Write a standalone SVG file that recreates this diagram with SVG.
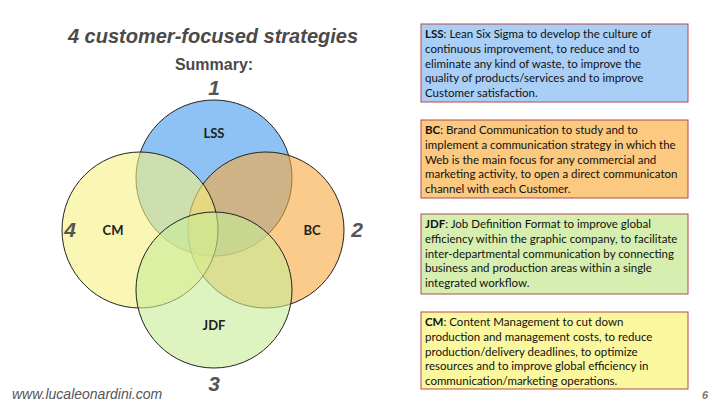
<svg xmlns="http://www.w3.org/2000/svg" width="728" height="410" viewBox="0 0 728 410">
<style>
.c{stroke:#222;stroke-width:1}
.lab{font-family:Lato,"Open Sans",sans-serif;font-weight:bold;font-size:13px;fill:#222;text-anchor:middle}
.num{font-family:"Liberation Sans",sans-serif;font-style:italic;font-weight:bold;font-size:21px;fill:#555;text-anchor:middle}
.box{stroke:#b5494a;stroke-width:1}
.t{font-family:Lato,"Open Sans",sans-serif;font-size:11.5px;fill:#111}
.t tspan.b{font-weight:bold}
</style>
<rect width="728" height="410" fill="#fff"/>
<text x="213" y="43" font-family="Liberation Sans,sans-serif" font-style="italic" font-weight="bold" font-size="20" fill="#4a4a4a" text-anchor="middle">4 customer-focused strategies</text>
<text x="214" y="70" font-family="Liberation Sans,sans-serif" font-weight="bold" font-size="16" fill="#4a4a4a" text-anchor="middle">Summary:</text>
<g id="lss"><circle class="c" cx="214" cy="178" r="78" fill="#6aaef0" fill-opacity="0.75"/></g>
<g id="bc"><circle class="c" cx="266" cy="230" r="78" fill="#f7a83c" fill-opacity="0.6"/></g>
<g id="cm"><circle class="c" cx="140" cy="230" r="78" fill="#f7f080" fill-opacity="0.6"/></g>
<g id="jdf"><circle class="c" cx="214" cy="290" r="78" fill="#c6ec98" fill-opacity="0.6"/></g>
<text class="lab" x="214" y="138">LSS</text>
<text class="lab" x="312" y="235">BC</text>
<text class="lab" x="113" y="235">CM</text>
<text class="lab" x="214" y="330">JDF</text>
<text class="num" x="214" y="95">1</text>
<text class="num" x="357" y="237">2</text>
<text class="num" x="214" y="391">3</text>
<text class="num" x="70" y="237">4</text>
<text x="12" y="399" font-family="Liberation Sans,sans-serif" font-style="italic" font-size="14" fill="#555">www.lucaleonardini.com</text>
<text x="702" y="399" font-family="Liberation Sans,sans-serif" font-style="italic" font-weight="bold" font-size="11" fill="#777">6</text>
<g id="box-lss"><rect class="box" x="421" y="24" width="267" height="78" fill="#a9cff6"/>
<text class="t" x="425" y="38"><tspan class="b">LSS</tspan>: Lean Six Sigma to develop the culture of<tspan x="425" dy="14.8">continuous improvement, to reduce and to</tspan><tspan x="425" dy="14.8">eliminate any kind of waste, to improve the</tspan><tspan x="425" dy="14.8">quality of products/services and to improve</tspan><tspan x="425" dy="14.8">Customer satisfaction.</tspan></text></g>
<g id="box-bc"><rect class="box" x="421" y="120" width="267" height="78" fill="#fbc97f"/>
<text class="t" x="425" y="134"><tspan class="b">BC</tspan>: Brand Communication to study and to<tspan x="425" dy="14.8">implement a communication strategy in which the</tspan><tspan x="425" dy="14.8">Web is the main focus for any commercial and</tspan><tspan x="425" dy="14.8">marketing activity, to open a direct communicaton</tspan><tspan x="425" dy="14.8">channel with each Customer.</tspan></text></g>
<g id="box-jdf"><rect class="box" x="421" y="214" width="267" height="80" fill="#d6efb0"/>
<text class="t" x="425" y="228"><tspan class="b">JDF</tspan>: Job Definition Format to improve global<tspan x="425" dy="14.8">efficiency within the graphic company, to facilitate</tspan><tspan x="425" dy="14.8">inter-departmental communication by connecting</tspan><tspan x="425" dy="14.8">business and production areas within a single</tspan><tspan x="425" dy="14.8">integrated workflow.</tspan></text></g>
<g id="box-cm"><rect class="box" x="421" y="312" width="267" height="77" fill="#fbf79e"/>
<text class="t" x="425" y="326"><tspan class="b">CM</tspan>: Content Management to cut down<tspan x="425" dy="14.8">production and management costs, to reduce</tspan><tspan x="425" dy="14.8">production/delivery deadlines, to optimize</tspan><tspan x="425" dy="14.8">resources and to improve global efficiency in</tspan><tspan x="425" dy="14.8">communication/marketing operations.</tspan></text></g>
</svg>
